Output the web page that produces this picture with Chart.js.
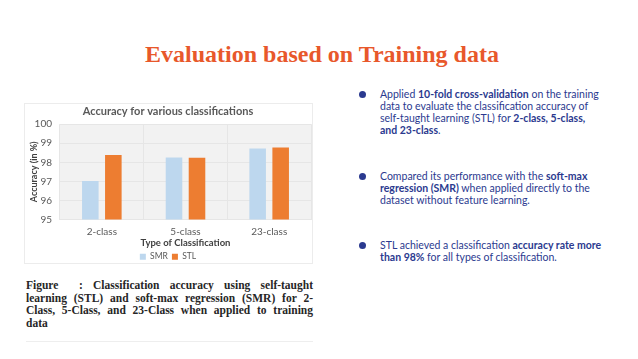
<!DOCTYPE html>
<html>
<head>
<meta charset="utf-8">
<script src="https://cdn.jsdelivr.net/npm/chart.js@4"></script>
<style>
  html, body { margin: 0; padding: 0; background: #fff; }
  body { width: 638px; height: 359px; position: relative; overflow: hidden; }
  #title {
    position: absolute; left: 3px; width: 638px; top: 41px; text-align: center;
    font-family: "Liberation Serif", serif; font-weight: bold; font-size: 24px;
    color: #e8582b;
  }
  #box {
    position: absolute; left: 24px; top: 103px; width: 289px; height: 161px;
    border: 1px solid #ececec; box-sizing: border-box;
  }
  #bullets {
    position: absolute; left: 380px; top: 88px; width: 250px;
    font-family: "Lato", "Open Sans", sans-serif; font-size: 10.5px; line-height: 12px;
    color: #2b3a8f;
  }
  .item { position: absolute; left: 0; white-space: nowrap; }
  .item::before {
    content: ""; position: absolute; left -21px; left: -21px; top: 3px; width: 7px; height: 7px;
    border-radius: 50%; background: #2b3a8f;
  }
  #caption {
    position: absolute; left: 26px; top: 279px; width: 287px;
    font-family: "Liberation Serif", serif; font-weight: bold; font-size: 11.5px; line-height: 12.5px;
    color: #262626;
  }
  #caption .j { height: 12.5px; text-align: justify; text-align-last: justify; }
  #rule { position: absolute; left: 26px; top: 341px; width: 287px; height: 1px; background: #eeeeee; }
</style>
</head>
<body>
<div id="title">Evaluation based on Training data</div>
<div id="box"><canvas id="graph" width="287" height="159"></canvas></div>
<div id="bullets">
  <div class="item" style="top:0px">Applied <b>10-fold cross-validation</b> on the training<br>data to evaluate the classification accuracy of<br>self-taught learning (STL) for <b>2-class, 5-class,</b><br><b>and 23-class</b>.</div>
  <div class="item" style="top:82px">Compared its performance with the <b>soft-max</b><br><b>regression (SMR)</b> when applied directly to the<br>dataset without feature learning.</div>
  <div class="item" style="top:151px">STL achieved a classification <b>accuracy rate more</b><br><b>than 98%</b> for all types of classification.</div>
</div>
<div id="caption">
  <div class="j">Figure&nbsp; : Classification accuracy using self-taught</div>
  <div class="j">learning (STL) and soft-max regression (SMR) for 2-</div>
  <div class="j">Class, 5-Class, and 23-Class when applied to training</div>
  <div>data</div>
</div>
<div id="rule"></div>
<script>
const categories = ['2-class', '5-class', '23-class'];
const smrValues = [97.02, 98.25, 98.72];
const stlValues = [98.38, 98.24, 98.78];
const yTicks = [95, 96, 97, 98, 99, 100];

// grey plot background like the Excel chart
const plotBackground = {
    id: 'plotBackground',
    beforeDraw(chart) {
        const a = chart.chartArea;
        const ctx = chart.ctx;
        ctx.save();
        ctx.fillStyle = '#f2f2f2';
        ctx.fillRect(a.left, a.top, a.right - a.left, a.bottom - a.top);
        ctx.restore();
    }
};

const textColor = '#595959';
const font = { family: 'Lato, "Open Sans", sans-serif', size: 10 };

new Chart(document.getElementById('graph').getContext('2d'), {
    type: 'bar',
    data: {
        labels: categories,
        datasets: [
            { label: 'SMR', data: smrValues, backgroundColor: '#bdd7ee' },
            { label: 'STL', data: stlValues, backgroundColor: '#ed7d31' }
        ]
    },
    options: {
        responsive: false,
        animation: false,
        layout: { padding: { left: 0, right: 1, top: 0, bottom: -8 } },
        datasets: { bar: { categoryPercentage: 0.55, barPercentage: 0.72 } },
        plugins: {
            title: {
                display: true, text: 'Accuracy for various classifications',
                color: textColor, font: { family: font.family, size: 11 },
                padding: { top: 1, bottom: 6 }
            },
            legend: {
                position: 'bottom',
                labels: { color: textColor, font: { family: font.family, size: 8.5 }, boxWidth: 6, boxHeight: 6, padding: 4 }
            },
            tooltip: { enabled: false }
        },
        scales: {
            x: {
                grid: { color: '#e6e6e6', drawTicks: false },
                border: { display: false },
                ticks: { color: textColor, font: font, padding: 6 },
                title: { display: true, text: 'Type of Classification', color: '#404040', font: { family: font.family, size: 9.5, weight: 'bold' }, padding: { top: 0, bottom: 0 } },
                afterFit(axis) { axis.height = 29; }
            },
            y: {
                min: 95, max: 100,
                afterBuildTicks(axis) { axis.ticks = yTicks.map(v => ({ value: v })); },
                grid: { color: '#e6e6e6', drawTicks: false },
                border: { display: false },
                ticks: { color: textColor, font: font, padding: 8 },
                title: { display: true, text: 'Accuracy (in %)', color: '#404040', font: { family: font.family, size: 9, weight: 'bold' }, padding: { top: 4, bottom: 0 } },
                afterFit(axis) { axis.width = 35; }
            }
        }
    },
    plugins: [plotBackground]
});
</script>
</body>
</html>
